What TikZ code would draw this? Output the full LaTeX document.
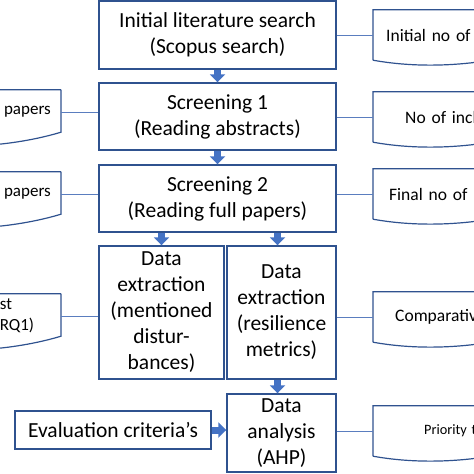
\documentclass[tikz,border=0pt]{standalone}
\usepackage{fontspec}
\setmainfont{Carlito}
\usepackage{xcolor}
\usetikzlibrary{arrows.meta}
\definecolor{boxblue}{HTML}{2F528F}
\definecolor{arrowblue}{HTML}{4472C4}
\definecolor{lineblue}{HTML}{5A7DBF}

\begin{document}
\begin{tikzpicture}[x=1pt,y=-1pt,
    box/.style={draw=boxblue,line width=1.4pt,fill=white,align=center,inner sep=2pt,
      font=\fontsize{21.5}{26}\selectfont},
    docL/.style={text width=51pt,inner xsep=10pt,minimum height=44pt,anchor=east,
      font=\fontsize{17}{20.5}\selectfont,
      append after command={\pgfextra{\draw[boxblue,line width=1.2pt]
        (\tikzlastnode.north east) -- ([yshift=2pt]\tikzlastnode.south east)
        .. controls +(-40,12) and +(60,12) .. ++(-161,8) |- (\tikzlastnode.north east);}}},
    docR/.style={text width=110pt,inner xsep=#1,minimum height=50pt,anchor=west,align=left,
      font=\fontsize{17.5}{21}\selectfont,
      append after command={\pgfextra{\draw[boxblue,line width=1.2pt]
        (\tikzlastnode.south west) .. controls +(50,9) and +(-60,18) .. ++(170,-12)
        |- (\tikzlastnode.north west) -- (\tikzlastnode.south west);}}},
    blk/.style={draw=arrowblue,line width=7pt,-{Triangle[width=15pt,length=8pt]}},
    conn/.style={draw=lineblue,line width=0.9pt}]

    \useasboundingbox (0,0) rectangle (474,474);
    \clip (0,0) rectangle (474,474);

    % main column
    \node[box,minimum width=237pt,minimum height=68pt] (init) at (217.5,35) {Initial literature search\\(Scopus search)};
    \node[box,minimum width=237pt,minimum height=67pt] (scr1) at (217.5,116.5) {Screening 1\\(Reading abstracts)};
    \node[box,minimum width=237pt,minimum height=67pt] (scr2) at (217.5,198.5) {Screening 2\\(Reading full papers)};
    \node[box,minimum width=125pt,minimum height=133pt] (ext1) at (161.5,312.5) {Data\\extraction\\(mentioned\\distur-\\bances)};
    \node[box,minimum width=109pt,minimum height=133pt] (ext2) at (281.5,312.5) {Data\\extraction\\(resilience\\metrics)};
    \node[box,minimum width=109pt,minimum height=78pt] (ahp) at (281.5,433) {Data\\analysis\\(AHP)};
    \node[box,minimum width=196pt,minimum height=38pt] (crit) at (113,430) {Evaluation criteria’s};

    % documents on the left
    \node[docL,align=right] (lp1) at (61,112) {papers};
    \node[docL,align=right] (lp2) at (61,194) {papers};
    \node[docL,align=left] (lrq) at (61,316) {st\\RQ1)};

    % documents on the right
    \node[docR=13pt] (rn1) at (373,35) {Initial no of in};
    \node[docR=32pt] (rn2) at (373,117) {No of inclu};
    \node[docR=16pt] (rn3) at (373,194) {Final no of in};
    \node[docR=22pt] (rn4) at (373,317) {Comparativ};
    \node[docR=51pt,font=\fontsize{14.3}{18}\selectfont] (rn5) at (373,431) {Priority t};

    \draw[blk] (init) -- (scr1);
    \draw[blk] (scr1) -- (scr2);
    \draw[blk] (ext1.north |- scr2.south) -- (ext1.north);
    \draw[blk] ([xshift=-4pt]ext2.north |- scr2.south) -- ([xshift=-4pt]ext2.north);
    \draw[blk] ([xshift=-4pt]ext2.south) -- ([xshift=-4pt]ext2.south |- ahp.north);
    \draw[blk] (crit.east) -- (crit.east -| ahp.west);

    \draw[conn] (init.east |- rn1.west) -- (rn1.west);
    \draw[conn] (scr1.east |- rn2.west) -- (rn2.west);
    \draw[conn] (scr2.east |- rn3.west) -- (rn3.west);
    \draw[conn] (ext2.east |- rn4.west) -- (rn4.west);
    \draw[conn] (ahp.east |- rn5.west) -- (rn5.west);
    \draw[conn] (lp1.east) -- (lp1.east -| scr1.west);
    \draw[conn] (lp2.east) -- (lp2.east -| scr2.west);
    \draw[conn] (lrq.east) -- (lrq.east -| ext1.west);
\end{tikzpicture}
\end{document}
